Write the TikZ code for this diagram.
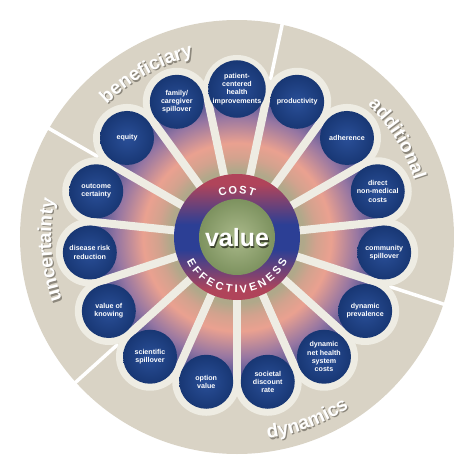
\documentclass[tikz,border=0pt]{standalone}
\usepackage{fontspec}
\setsansfont{Liberation Sans}
\usetikzlibrary{decorations.text}
\definecolor{beige}{HTML}{D9D3C5}
\definecolor{cream}{HTML}{EEECE3}
\definecolor{navyin}{HTML}{2A4F98}
\definecolor{navyout}{HTML}{183774}
\definecolor{pOlive}{HTML}{B0A88A}
\definecolor{pOS}{HTML}{D3A28E}
\definecolor{pSalmon}{HTML}{EAA190}
\definecolor{pMauve}{HTML}{9676A2}
\definecolor{pBlue}{HTML}{3F4C90}
\definecolor{ringred}{HTML}{B0445A}
\definecolor{ringblue}{HTML}{2C3F95}
\definecolor{greenin}{HTML}{AAB98A}
\definecolor{greenout}{HTML}{7D925F}
\definecolor{shadowgray}{HTML}{8C877C}
\definecolor{valshadow}{HTML}{3E4530}
\pgfdeclareradialshading{petalshade}{\pgfpoint{0bp}{0bp}}{%
 color(0bp)=(pOlive); color(11.3bp)=(pOlive); color(13.5bp)=(pOS);
 color(16bp)=(pSalmon); color(20.5bp)=(pMauve); color(24.4bp)=(pBlue);
 color(50bp)=(pBlue)}
\pgfdeclareverticalshading{ringshade}{100bp}{%
 color(0bp)=(ringred); color(29bp)=(ringred); color(45bp)=(ringblue);
 color(55bp)=(ringblue); color(71bp)=(ringred); color(100bp)=(ringred)}
\newcommand\catfont{\sffamily\bfseries\fontsize{19}{19}\selectfont}
\newcommand\ringfont{\sffamily\bfseries\fontsize{11}{11}\selectfont}
\tikzset{
 bubble/.style={circle, minimum size=54pt, inner sep=0pt, shading=radial,
   inner color=navyin, outer color=navyout, text=white, align=center,
   font=\sffamily\bfseries\fontsize{7.1}{8.2}\selectfont},
 catlabel/.style={decorate, decoration={text along path, text align=center,
   text color=white, text={|\catfont|#1}}},
 catshadow/.style={decorate, decoration={text along path, text align=center,
   text color=shadowgray, text={|\catfont|#1}}},
 ringlabel/.style={decorate, decoration={text along path, text align={fit to path},
   text color=white, text={|\ringfont|#1}}},
 separator/.style={white, line width=3.5pt},
 strip/.style={cream, line width=8pt}
}
\begin{document}
\begin{tikzpicture}[x=1pt,y=1pt]
\useasboundingbox (-237,-238) rectangle (237,237);
% outer ring
\fill[beige] (0,0) circle (217);
\foreach \a in {78,150,222,342} \draw[separator] (\a:160) -- (\a:218);
% cream base and halos
\fill[cream] (0,0) circle (150);
\foreach \i in {0,...,14} \fill[cream] (90-24*\i:148) circle (34);
% petal gradient
\shade[shading=petalshade] (0,0) circle (147);
\foreach \i in {0,...,14} \draw[strip] (102-24*\i:58) -- (102-24*\i:152);
% bubbles
\node[bubble] (patient) at (90:148) {patient-\\centered\\health\\improvements};
\node[bubble] (productivity) at (66:148) {productivity};
\node[bubble] (adherence) at (42:148) {adherence};
\node[bubble] (direct) at (18:148) {direct\\non-medical\\costs};
\node[bubble] (community) at (-6:148) {community\\spillover};
\node[bubble] (prevalence) at (-30:148) {dynamic\\prevalence};
\node[bubble] (netcosts) at (-54:148) {dynamic\\net health\\system\\costs};
\node[bubble] (discount) at (-78:148) {societal\\discount\\rate};
\node[bubble] (option) at (-102:148) {option\\value};
\node[bubble] (scientific) at (-126:148) {scientific\\spillover};
\node[bubble] (knowing) at (-150:148) {value of\\knowing};
\node[bubble] (risk) at (-174:148) {disease risk\\reduction};
\node[bubble] (certainty) at (162:148) {outcome\\certainty};
\node[bubble] (equity) at (138:148) {equity};
\node[bubble] (family) at (114:148) {family/\\caregiver\\spillover};
% center
\shade[shading=ringshade] (0,0) circle (63);
\shade[inner color=greenin, outer color=greenout] (0,0) circle (38);
\path[ringlabel=COST] (113:43.5) arc[start angle=113, end angle=67, radius=43.5];
\path[ringlabel=EFFECTIVENESS] (-154:56) arc[start angle=-154, end angle=-26, radius=56];
\node[text=valshadow, font=\sffamily\bfseries\fontsize{25}{25}\selectfont] (valueshadow) at (1.2,-2.5) {value};
\node[text=white, font=\sffamily\bfseries\fontsize{25}{25}\selectfont] (value) at (0,-1) {value};
% category labels
\begin{scope}[shift={(1.3,-1.3)}]
\path[catshadow=beneficiary] (150:186) arc[start angle=150, end angle=88, radius=186];
\path[catshadow=additional] (62.5:186) arc[start angle=62.5, end angle=0.5, radius=186];
\path[catshadow=uncertainty] (215:186) arc[start angle=215, end angle=153, radius=186];
\path[catshadow=dynamics] (-100:204) arc[start angle=-100, end angle=-38, radius=204];
\end{scope}
\path[catlabel=beneficiary] (150:186) arc[start angle=150, end angle=88, radius=186];
\path[catlabel=additional] (62.5:186) arc[start angle=62.5, end angle=0.5, radius=186];
\path[catlabel=uncertainty] (215:186) arc[start angle=215, end angle=153, radius=186];
\path[catlabel=dynamics] (-100:204) arc[start angle=-100, end angle=-38, radius=204];
\end{tikzpicture}
\end{document}
